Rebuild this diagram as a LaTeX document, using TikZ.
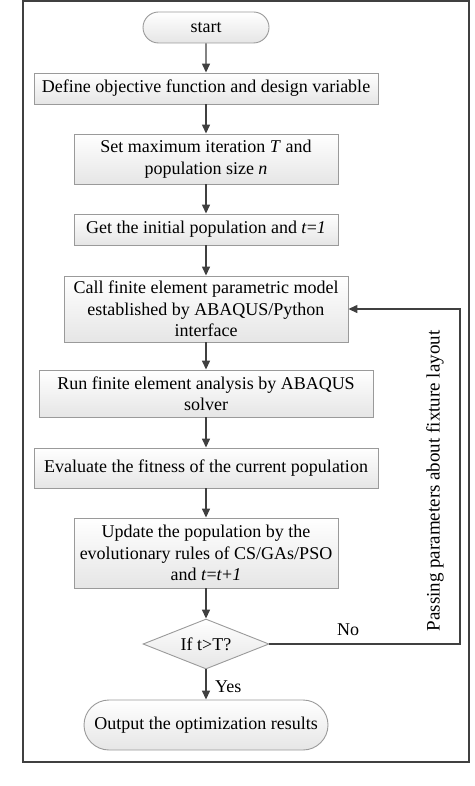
\documentclass[tikz,border=0pt]{standalone}
\usepackage{fontspec}
\setmainfont{Liberation Serif}
\usetikzlibrary{arrows.meta,shapes.geometric,shapes.misc}
\definecolor{boxline}{HTML}{9A9A9A}
\definecolor{arr}{HTML}{404040}
\begin{document}
\begin{tikzpicture}[x=1pt,y=-1pt,
  font=\fontsize{18}{21.5}\selectfont,
  boxbase/.style={draw=boxline,line width=0.9pt,top color=white,bottom color=black!10,inner sep=0pt,align=center},
  procbox/.style={boxbase,rectangle},
  termbox/.style={boxbase,rounded rectangle},
  decbox/.style={boxbase,diamond,aspect=2.5},
  flow/.style={draw=arr,line width=1.4pt,-{Triangle[length=9pt,width=8pt]}},
  lbl/.style={inner sep=0pt}]
\useasboundingbox (0,0) rectangle (474,786);
\draw[arr,line width=1.4pt] (23,1) rectangle (469,762);
\node[termbox,minimum width=126pt,minimum height=31pt] (start) at (206,27.5) {start};
\node[procbox,minimum width=344pt,minimum height=31pt] (b1) at (206,88.5) {Define objective function and design variable};
\node[procbox,minimum width=264pt,minimum height=50pt] (b2) at (206,159) {Set maximum iteration \textit{T} and\\population size \textit{n}};
\node[procbox,minimum width=264pt,minimum height=31pt] (b3) at (206,229.5) {Get the initial population and \textit{t}=\textit{1}};
\node[procbox,minimum width=284pt,minimum height=66pt] (b4) at (206,309) {Call finite element parametric model\\established by ABAQUS/Python\\interface};
\node[procbox,minimum width=334pt,minimum height=47pt] (b5) at (206,393.5) {Run finite element analysis by ABAQUS\\solver};
\node[procbox,minimum width=344pt,minimum height=40pt] (b6) at (206,468) {Evaluate the fitness of the current population};
\node[procbox,minimum width=264pt,minimum height=70pt] (b7) at (206,553) {Update the population by the\\evolutionary rules of CS/GAs/PSO\\and \textit{t}=\textit{t}+\textit{1}};
\node[decbox,minimum width=126pt,minimum height=50pt] (dec) at (206,644) {If t>T?};
\node[termbox,minimum width=244pt,minimum height=50pt] (out) at (206,725) {Output the optimization results};
\coordinate (c1) at (460,644);
\coordinate (c2) at (460,309);
\draw[flow] (start) -- (b1);
\draw[flow] (b1) -- (b2);
\draw[flow] (b2) -- (b3);
\draw[flow] (b3) -- (b4);
\draw[flow] (b4) -- (b5);
\draw[flow] (b5) -- (b6);
\draw[flow] (b6) -- (b7);
\draw[flow] (b7) -- (dec);
\draw[flow] (dec) -- (out);
\draw[flow] (dec.east) -- (c1) -- (c2) -- (b4.east);
\node[lbl] (no) at (348,630) {No};
\node[lbl,anchor=west] (yes) at (215,687) {Yes};
\node[lbl,rotate=90,font=\fontsize{19}{22}\selectfont] (pass) at (435,481) {Passing parameters about fixture layout};
\end{tikzpicture}
\end{document}
